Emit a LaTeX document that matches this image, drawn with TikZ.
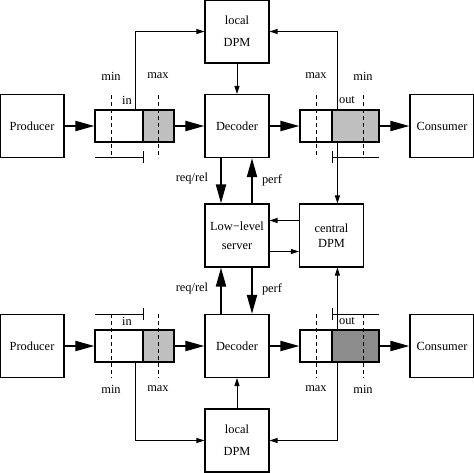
\documentclass[tikz,border=0pt]{standalone}
\usepackage{fontspec}
\setmainfont{Liberation Serif}
\usetikzlibrary{arrows.meta}

\begin{document}
\begin{tikzpicture}[x=1pt, y=-1pt,
    % Define styles - boxes, buffers and connectors
    block/.style={rectangle, draw, line width=1.2pt, minimum width=64pt, minimum height=63pt, inner sep=0pt, align=center, font=\fontsize{12.4}{15}\selectfont},
    dpm/.style={block, font=\fontsize{12.4}{22}\selectfont},
    buffer/.style={rectangle, draw, line width=1.2pt, minimum width=79pt, minimum height=32pt, inner sep=0pt},
    level/.style={rectangle, draw, line width=1.2pt, fill=black!25, minimum height=32pt, inner sep=0pt, anchor=east},
    note/.style={font=\fontsize{12.4}{15}\selectfont, inner sep=0pt},
    bigflow/.style={-{Triangle[length=19pt, width=10pt]}, line width=2pt},
    ctrl/.style={-{Triangle[length=8pt, width=5pt]}, line width=1pt},
    limit/.style={line width=1pt, dash pattern=on 4pt off 3pt},
    bracket/.style={line width=1pt}
]
\useasboundingbox (0,0) rectangle (474,472);

% Top chain
\node[block] (producer_top) at (32, 126) {Producer};
\node[buffer] (buffer_in_top) at (134.5, 126) {};
\node[level, minimum width=31pt] (level_in_top) at (buffer_in_top.east) {};
\node[block] (decoder_top) at (237, 126) {Decoder};
\node[dpm] (local_dpm_top) at (237, 31.5) {local\\DPM};
\node[buffer] (buffer_out_top) at (339.5, 126) {};
\node[level, minimum width=47pt] (level_out_top) at (buffer_out_top.east) {};
\node[block] (consumer_top) at (442, 126) {Consumer};

% Middle: server and central DPM
\node[block, font=\fontsize{12.4}{19}\selectfont] (server) at (237, 235.5) {Low−level\\server};
\node[block] (central_dpm) at (331.5, 235.5) {central\\DPM};

% Bottom chain
\node[block] (producer_bot) at (32, 346) {Producer};
\node[buffer] (buffer_in_bot) at (134.5, 346) {};
\node[level, minimum width=31pt] (level_in_bot) at (buffer_in_bot.east) {};
\node[block] (decoder_bot) at (237, 346) {Decoder};
\node[dpm] (local_dpm_bot) at (237, 440.5) {local\\DPM};
\node[buffer] (buffer_out_bot) at (339.5, 346) {};
\node[level, minimum width=47pt, fill=black!45] (level_out_bot) at (buffer_out_bot.east) {};
\node[block] (consumer_bot) at (442, 346) {Consumer};

% Buffer thresholds and labels
\draw[limit] (111, 95) -- (111, 158);
\draw[limit] (158, 95) -- (158, 158);
\draw[limit] (316, 95) -- (316, 158);
\draw[limit] (363, 95) -- (363, 158);
\draw[limit] (111, 314) -- (111, 378);
\draw[limit] (158, 314) -- (158, 378);
\draw[limit] (316, 314) -- (316, 378);
\draw[limit] (363, 314) -- (363, 378);

\node[note] (min_in_top) at (111, 76) {min};
\node[note] (max_in_top) at (158, 76) {max};
\node[note] (max_out_top) at (316, 76) {max};
\node[note] (min_out_top) at (363, 76) {min};
\node[note] (min_in_bot) at (111, 389) {min};
\node[note] (max_in_bot) at (158, 389) {max};
\node[note] (max_out_bot) at (316, 389) {max};
\node[note] (min_out_bot) at (363, 389) {min};

\node[note] (in_top) at (127, 100) {in};
\node[note] (out_top) at (347, 100) {out};
\node[note] (in_bot) at (127, 321) {in};
\node[note] (out_bot) at (347, 321) {out};

% Fill ranges
\draw[bracket] (95, 157) -- (143, 157) (143, 151) -- (143, 163);
\draw[bracket] (332, 151) -- (332, 163) (332, 157) -- (379, 157);
\draw[bracket] (95, 314) -- (143, 314) (143, 308) -- (143, 320);
\draw[bracket] (332, 308) -- (332, 320) (332, 314) -- (379, 314);

% Data flow
\draw[bigflow] (producer_top.east) -- (buffer_in_top.west);
\draw[bigflow] (buffer_in_top.east) -- (decoder_top.west);
\draw[bigflow] (decoder_top.east) -- (buffer_out_top.west);
\draw[bigflow] (buffer_out_top.east) -- (consumer_top.west);
\draw[bigflow] (producer_bot.east) -- (buffer_in_bot.west);
\draw[bigflow] (buffer_in_bot.east) -- (decoder_bot.west);
\draw[bigflow] (decoder_bot.east) -- (buffer_out_bot.west);
\draw[bigflow] (buffer_out_bot.east) -- (consumer_bot.west);

% Requests and performance
\draw[bigflow] ([xshift=-16pt]decoder_top.south) -- ([xshift=-16pt]server.north);
\draw[bigflow] ([xshift=15pt]server.north) -- ([xshift=15pt]decoder_top.south);
\draw[bigflow] ([xshift=-16pt]decoder_bot.north) -- ([xshift=-16pt]server.south);
\draw[bigflow] ([xshift=15pt]server.south) -- ([xshift=15pt]decoder_bot.north);
\node[note] (reqrel_top) at (192, 179) {req/rel};
\node[note] (perf_top) at (272, 180) {perf};
\node[note] (reqrel_bot) at (192, 289) {req/rel};
\node[note] (perf_bot) at (272, 289) {perf};

% Control loops
\coordinate (tap_in_top) at ([xshift=-7pt]level_in_top.north west);
\coordinate (tap_out_top) at ([xshift=6pt]level_out_top.north west);
\coordinate (tap_down_top) at ([xshift=6pt]level_out_top.south west);
\coordinate (tap_in_bot) at ([xshift=-7pt]level_in_bot.south west);
\coordinate (tap_out_bot) at ([xshift=6pt]level_out_bot.south west);
\coordinate (tap_up_bot) at ([xshift=6pt]level_out_bot.north west);

\draw[ctrl] (tap_in_top) |- (local_dpm_top.west);
\draw[ctrl] (tap_out_top) |- (local_dpm_top.east);
\draw[ctrl] (local_dpm_top) -- (decoder_top);
\draw[ctrl] (tap_down_top) -- (tap_down_top |- central_dpm.north);
\draw[ctrl] ([yshift=15pt]central_dpm.west) -- ([yshift=15pt]server.east);
\draw[ctrl] ([yshift=-16pt]server.east) -- ([yshift=-16pt]central_dpm.west);
\draw[ctrl] (tap_up_bot) -- (tap_up_bot |- central_dpm.south);
\draw[ctrl] (tap_in_bot) |- (local_dpm_bot.west);
\draw[ctrl] (tap_out_bot) |- (local_dpm_bot.east);
\draw[ctrl] (local_dpm_bot) -- (decoder_bot);

\end{tikzpicture}
\end{document}
